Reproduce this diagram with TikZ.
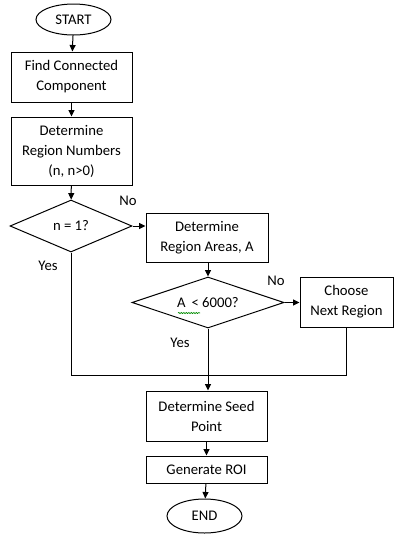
\documentclass[tikz,border=0pt]{standalone}
\usepackage{fontspec}
\setmainfont{Carlito}
\usetikzlibrary{shapes.geometric,arrows.meta,decorations.pathmorphing}

\tikzset{
  every node/.style={font=\fontsize{14.7}{20}\selectfont, align=center},
  box/.style={draw, line width=1pt, rectangle, inner sep=0pt},
  term/.style={draw, line width=1pt, ellipse, inner sep=0pt},
  decide/.style={draw, line width=1pt, diamond, inner sep=0pt, aspect=2.5},
  flow/.style={line width=1pt, -{Triangle[length=6.5pt,width=6pt]}},
  backline/.style={line width=1pt}
}

\begin{document}
\begin{tikzpicture}[x=1pt, y=-1pt]
  \useasboundingbox (0,0) rectangle (401,550);
  \node[term, minimum width=75, minimum height=31] (start) at (73.5, 19.5) {START};
  \node[box, minimum width=121, minimum height=50] (find) at (71.5, 77) {Find Connected\\Component};
  \node[box, minimum width=121, minimum height=68] (regnum) at (71.5, 151) {Determine\\Region Numbers\\(n, n>0)};
  \node[decide, minimum width=122, minimum height=52] (isone) at (71, 226) {n = 1?};
  \node[box, minimum width=122, minimum height=49] (areas) at (207, 237.5) {Determine\\Region Areas, A};
  \node[decide, minimum width=152, minimum height=51] (small) at (208, 302.5) {A~\,< 6000?};
  \node[box, minimum width=93, minimum height=50] (choose) at (346.5, 302) {Choose\\Next Region};
  \node[box, minimum width=121, minimum height=50] (seed) at (206.5, 416) {Determine Seed\\Point};
  \node[box, minimum width=121, minimum height=27] (roi) at (206.5, 469.5) {Generate ROI};
  \node[term, minimum width=75, minimum height=34] (end) at (204.5, 516) {END};
  \node (no1) at (128, 201) {No};
  \node (yes1) at (48, 266) {Yes};
  \node (no2) at (276, 281) {No};
  \node (yes2) at (180, 343) {Yes};
  \coordinate (merge) at (208, 375);
  \draw[flow] (start) -- (find);
  \draw[flow] (find) -- (regnum);
  \draw[flow] (regnum) -- (isone);
  \draw[flow] (isone.east) -- (areas.west |- isone.east);
  \draw[flow] (areas.south -| small.north) -- (small.north);
  \draw[flow] (small.east) -- (choose.west |- small.east);
  \draw[backline] (isone.south) |- (merge);
  \draw[backline] (choose.south) |- (merge);
  \draw[flow] (small.south) -- (seed.north -| small.south);
  \draw[flow] (seed) -- (roi);
  \draw[flow] (roi) -- (end);
  \draw[green!55!black, line width=0.6pt, decorate, decoration={snake, amplitude=0.6pt, segment length=2.5pt}] (178, 313) -- (200, 313);
\end{tikzpicture}
\end{document}
